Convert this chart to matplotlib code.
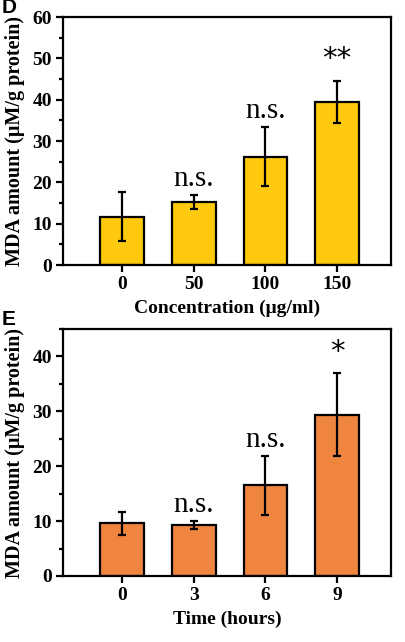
import matplotlib.pyplot as plt
from matplotlib.ticker import MultipleLocator

plt.rcParams["font.family"] = ["Liberation Serif", "DejaVu Serif"]

# panel D: MDA vs concentration
conc_labels = ["0", "50", "100", "150"]
conc_mean = [11.7, 15.3, 26.2, 39.4]
conc_err = [6.0, 1.7, 7.2, 5.0]
conc_marks = ["", "n.s.", "n.s.", "**"]

# panel E: MDA vs time
time_labels = ["0", "3", "6", "9"]
time_mean = [9.6, 9.35, 16.5, 29.4]
time_err = [2.1, 0.7, 5.4, 7.6]
time_marks = ["", "n.s.", "n.s.", "*"]

W, H = 405, 642


def draw_panel(ax, labels, mean, err, marks, color, ymax, xlabel, ns_gap, star_gap):
    x = list(range(len(labels)))
    ax.bar(x, mean, width=0.61, color=color, edgecolor="black", linewidth=1.6, zorder=2)
    ax.errorbar(x, mean, yerr=err, fmt="none", ecolor="black", elinewidth=1.6,
                capsize=3, capthick=1.6, zorder=3)
    for xi, m, e, t in zip(x, mean, err, marks):
        if not t:
            continue
        if t.startswith("*"):
            ax.text(xi, m + e + star_gap, t, ha="center", va="center",
                    fontsize=21, family=["DejaVu Sans"])
        else:
            ax.text(xi, m + e + ns_gap, t, ha="center", va="bottom", fontsize=21)
    ax.set_xlim(-0.82, 3.75)
    ax.set_ylim(0, ymax)
    ax.set_xticks(x)
    ax.set_xticklabels(labels)
    ax.yaxis.set_major_locator(MultipleLocator(10))
    ax.yaxis.set_minor_locator(MultipleLocator(5))
    ax.tick_params(axis="both", which="major", direction="out", length=5, width=1.6,
                   labelsize=14, pad=3)
    ax.tick_params(axis="y", which="minor", direction="out", length=3, width=1.6)
    for lab in ax.get_xticklabels() + ax.get_yticklabels():
        lab.set_fontweight("bold")
    for s in ax.spines.values():
        s.set_linewidth(1.6)
    ax.set_ylabel("MDA amount (μM/g protein)", fontsize=14.5, fontweight="bold", labelpad=5)
    ax.set_xlabel(xlabel, fontsize=14, fontweight="bold", labelpad=5)


fig = plt.figure(figsize=(W / 100, H / 100), dpi=100)
ax_d = fig.add_axes([63 / W, 1 - 265 / H, 328 / W, 248 / H])
ax_e = fig.add_axes([63 / W, 1 - 576 / H, 328 / W, 247 / H])

draw_panel(ax_d, conc_labels, conc_mean, conc_err, conc_marks, "#FFC90D", 60,
           "Concentration (μg/ml)", 0.6, 5.4)
draw_panel(ax_e, time_labels, time_mean, time_err, time_marks, "#F0853F", 45,
           "Time (hours)", 0.5, 3.9)
ax_e.set_yticks([0, 10, 20, 30, 40])

fig.text(2 / W, 1 + 2 / H, "D", ha="left", va="top", fontsize=15, fontweight="bold",
         family=["Liberation Sans", "DejaVu Sans"])
fig.text(2 / W, 1 - 310 / H, "E", ha="left", va="top", fontsize=15, fontweight="bold",
         family=["Liberation Sans", "DejaVu Sans"])

fig.savefig("out.png", dpi=100)
